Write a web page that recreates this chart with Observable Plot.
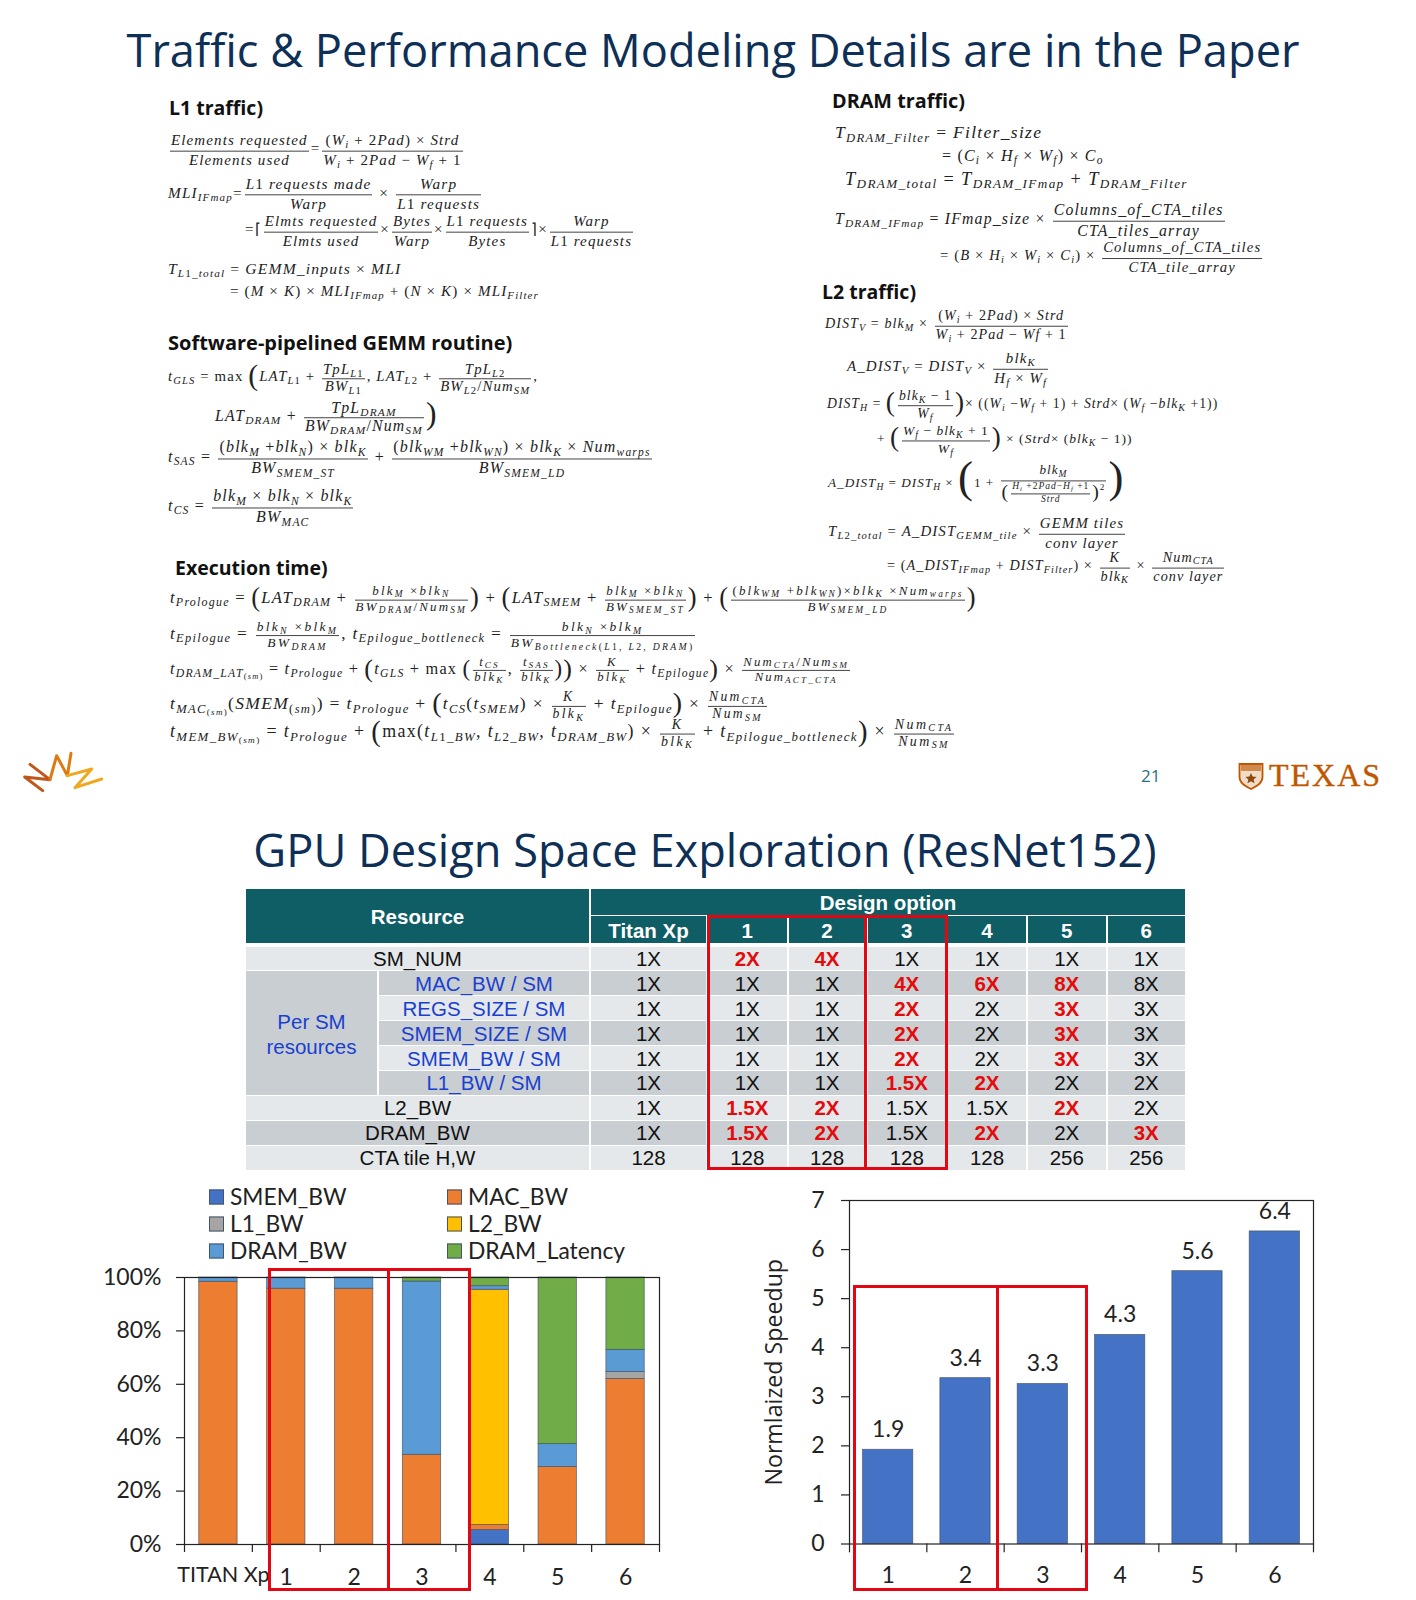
<!DOCTYPE html>
<html><head><meta charset="utf-8">
<script src="https://cdn.jsdelivr.net/npm/d3@7"></script>
<script src="https://cdn.jsdelivr.net/npm/@observablehq/plot@0.6"></script>
<style>
html,body{margin:0;padding:0;background:#fff}
#root{position:relative;width:1416px;height:1600px;overflow:hidden;background:#fff}
.abs{position:absolute;white-space:nowrap}
.title{font-family:"Open Sans",sans-serif;color:#0e2f56;transform:translate(-50%,-50%);line-height:1}
.hd{font-family:"Open Sans",sans-serif;font-weight:700;color:#111;font-size:19.5px;transform:translateY(-50%);line-height:1}
.eq{font-family:"Liberation Serif",serif;font-style:italic;color:#222;font-size:15px;letter-spacing:.075em;transform:translateY(-50%);line-height:1.12}
.eq sub{font-size:.72em;vertical-align:-.28em;line-height:0}
.eq .u{font-style:normal}
.fr{display:inline-flex;flex-direction:column;vertical-align:middle;text-align:center;margin:0 2px}
.fr>span{padding:0 1px;display:block}
.fr>span:first-child{padding-bottom:.14em}
.fr>span+span{border-top:1px solid #444}
.eq.snug,.eq.snug .fr{line-height:.96}
.eq.tight{line-height:1}
.eq.tight .fr{font-size:.78em;letter-spacing:.17em;line-height:1}
.bp{font-style:normal;font-weight:200;line-height:0;vertical-align:-.12em}
#tbl{position:absolute;left:246px;top:889px;display:grid;font-family:"Liberation Sans",Arial,sans-serif;font-size:20.5px;color:#111;
 grid-template-columns:133px 212px 117px 80.5px 79px 80.5px 80px 79.5px 79.5px;
 grid-template-rows:27px 28px 2.5px repeat(9,24.9px)}
#tbl>div{display:flex;align-items:center;justify-content:center;box-sizing:border-box;border-right:2px solid #fff;border-bottom:1.5px solid #fff;white-space:nowrap;overflow:visible;line-height:1;padding-top:1.5px}
#tbl .h{background:#0f5e66;color:#fff;font-weight:700;padding-top:3px}
#tbl .lt{background:#e4e8ea}
#tbl .dk{background:#c9ced2}
#tbl .bl{color:#1a3fd0}
#tbl .rd{color:#e30b0b;font-weight:700}
.red{position:absolute;box-sizing:border-box;border:3.5px solid #e30613;pointer-events:none}
.lg{position:absolute;font-family:Lato,sans-serif;font-size:22.8px;color:#222;line-height:1;transform:translateY(-50%);white-space:nowrap}
.sw{position:absolute;width:15px;height:15px;box-sizing:border-box;border:1px solid #44546a;transform:translateY(-50%)}
</style></head>
<body><div id="root"></div>
<script>
// ---------- data: stacked bottleneck breakdown (percent of time) ----------
const stackOptions = ["TITAN Xp","1","2","3","4","5","6"];
const seriesNames  = ["SMEM_BW","MAC_BW","L1_BW","L2_BW","DRAM_BW","DRAM_Latency"];
const seriesColors = ["#4472c4","#ed7d31","#a5a5a5","#ffc000","#5b9bd5","#70ad47"];
const smemBw      = [0,   0,  0,  0,    5.4, 0,    0];
const macBw       = [98.4,95.8,95.8,33.6,1.9, 29,  62];
const l1Bw        = [0,   0,  0,  0,    0,   0,    2.6];
const l2Bw        = [0,   0,  0,  0,    88.1,0,    0];
const dramBw      = [1.6, 4.2,4.2,64.9, 1.35,8.6,  8.3];
const dramLatency = [0,   0,  0,  1.5,  3.25,62.4, 27.1];
const stackTicks  = [0,20,40,60,80,100];

// ---------- data: normalized speedup ----------
const speedOptions = ["1","2","3","4","5","6"];
const speedup      = [1.92,3.38,3.26,4.26,5.56,6.37];
const speedTicks   = [0,1,2,3,4,5,6,7];

// ---------- data: table ("!" marks a red entry) ----------
const tableColumns = ["Titan Xp","1","2","3","4","5","6"];
const wideRows = {0:"SM_NUM",6:"L2_BW",7:"DRAM_BW",8:"CTA tile H,W"};
const perSmRows = {1:"MAC_BW / SM",2:"REGS_SIZE / SM",3:"SMEM_SIZE / SM",4:"SMEM_BW / SM",5:"L1_BW / SM"};
const tableValues = [
 ["1X","!2X","!4X","1X","1X","1X","1X"],
 ["1X","1X","1X","!4X","!6X","!8X","8X"],
 ["1X","1X","1X","!2X","2X","!3X","3X"],
 ["1X","1X","1X","!2X","2X","!3X","3X"],
 ["1X","1X","1X","!2X","2X","!3X","3X"],
 ["1X","1X","1X","!1.5X","!2X","2X","2X"],
 ["1X","!1.5X","!2X","1.5X","1.5X","!2X","2X"],
 ["1X","!1.5X","!2X","1.5X","!2X","2X","!3X"],
 ["128","128","128","128","128","256","256"]
];

// ---------- page helpers ----------
const root = document.getElementById("root");
function el(cls, style, html){const d=document.createElement("div");d.className=cls;d.style.cssText=style;if(html!==undefined)d.innerHTML=html;root.appendChild(d);return d;}
const F=(a,b)=>`<span class="fr"><span>${a}</span><span>${b}</span></span>`;
const P=(c,em)=>`<span class="bp" style="font-size:${em}em">${c}</span>`;
const U=t=>`<span class="u">${t}</span>`;
function mathHtml(src){
  let s=src,prev;
  do{prev=s;s=s.replace(/_\{([^{}]*)\}/g,"<sub>$1</sub>");}while(s!==prev);
  return s.replace(/(<[^>]*>)|([0-9()+=×−⌈⌉,\/])/g,(m,tag,ch)=>tag?tag:`<span class="u">${ch}</span>`);
}
function eq(x,y,src,fs,extra){el("abs eq"+(extra?" "+extra:""),`left:${x}px;top:${y}px;`+(fs?`font-size:${fs}px;`:""),mathHtml(src));}
function hd(x,y,t,fs){el("abs hd",`left:${x}px;top:${y}px;`+(fs?`font-size:${fs}px`:""),t);}

// ---------- titles ----------
el("abs title","left:713px;top:50px;font-size:45.2px","Traffic &amp; Performance Modeling Details are in the Paper");
el("abs title","left:705px;top:850px;font-size:45.2px","GPU Design Space Exploration (ResNet152)");

// ---------- equations: L1 ----------
hd(169,108,"L1 traffic)");
eq(168,150,F("Elements requested","Elements used")+"="+F("(W_{i} + 2Pad) × Strd","W_{i} + 2Pad − W_{f} + 1"),15);
eq(168,194,"MLI_{IFmap}="+F("L1 requests made","Warp")+" × "+F("Warp","L1 requests"),15.3);
eq(245,231,"=⌈"+F("Elmts requested","Elmts used")+"×"+F("Bytes","Warp")+"×"+F("L1 requests","Bytes")+"⌉×"+F("Warp","L1 requests"),15);
eq(168,269,"T_{L1_total} = GEMM_inputs × MLI",15.6);
eq(230,291,"= (M × K) × MLI_{IFmap} + (N × K) × MLI_{Filter}",15.1);
// GEMM
hd(168,343,"Software-pipelined GEMM routine)",20);
eq(168,378,"t_{GLS} = "+U("max")+" "+P("(",2)+"LAT_{L1} + "+F("TpL_{L1}","BW_{L1}")+", LAT_{L2} + "+F("TpL_{L2}","BW_{L2}/Num_{SM}")+",",14.8,"snug");
eq(215,417,"LAT_{DRAM} + "+F("TpL_{DRAM}","BW_{DRAM}/Num_{SM}")+P(")",2),15.8,"snug");
eq(168,458,"t_{SAS} = "+F("(blk_{M} +blk_{N}) × blk_{K}","BW_{SMEM_ST}")+" + "+F("(blk_{WM} +blk_{WN}) × blk_{K} × Num_{warps}","BW_{SMEM_LD}"),16);
eq(168,507,"t_{CS} = "+F("blk_{M} × blk_{N} × blk_{K}","BW_{MAC}"),16);
// DRAM
hd(832,101,"DRAM traffic)",19.8);
eq(835,133,"T_{DRAM_Filter} = Filter_size",17.5);
eq(942,156,"= (C_{i} × H_{f} × W_{f}) × C_{o}",16);
eq(845,179,"T_{DRAM_total} = T_{DRAM_IFmap} + T_{DRAM_Filter}",18.3);
eq(835,220,"T_{DRAM_IFmap} = IFmap_size × "+F("Columns_of_CTA_tiles","CTA_tiles_array"),15.8);
eq(940,257,"= (B × H_{i} × W_{i} × C_{i}) × "+F("Columns_of_CTA_tiles","CTA_tile_array"),14.7);
// L2
hd(822,292,"L2 traffic)");
eq(825,325,"DIST_{V} = blk_{M} × "+F("(W_{i} + 2Pad) × Strd","W_{i} + 2Pad − Wf + 1"),14.1);
eq(847,368,"A_DIST_{V} = DIST_{V} × "+F("blk_{K}","H_{f} × W_{f}"),14.9);
eq(827,405,"DIST_{H} = "+P("(",2)+F("blk_{K} − 1","W_{f}")+P(")",2)+"× ((W_{i} −W_{f} + 1) + Strd× (W_{f} −blk_{K} +1))",13.7);
eq(877,440,"+ "+P("(",2)+F("W_{f} − blk_{K} + 1","W_{f}")+P(")",2)+" × (Strd× (blk_{K} − 1))",13.5);
eq(828,484,"A_DIST_{H} = DIST_{H} × "+P("(",3.4)+"1 + "+F("blk_{M}",P("(",1.5)+`<span style="font-size:.72em">`+F("H_{i} +2Pad−H_{f} +1","Strd")+"</span>"+P(")",1.5)+"<sup style='font-size:.7em;line-height:0'>2</sup>")+P(")",3.4),13.2);
eq(828,533,"T_{L2_total} = A_DIST_{GEMM_tile} × "+F("GEMM tiles","conv layer"),14.9);
eq(887,567,"= (A_DIST_{IFmap} + DIST_{Filter}) × "+F("K","blk_{K}")+" × "+F("Num_{CTA}","conv layer"),14.2);
// Execution
hd(175,568,"Execution time)");
eq(170,599,"t_{Prologue} = "+P("(",1.6)+"LAT_{DRAM} + "+F("blk_{M} ×blk_{N}","BW_{DRAM}/Num_{SM}")+P(")",1.6)+" + "+P("(",1.6)+"LAT_{SMEM} + "+F("blk_{M} ×blk_{N}","BW_{SMEM_ST}")+P(")",1.6)+" + "+P("(",1.6)+F("(blk_{WM} +blk_{WN})×blk_{K} ×Num_{warps}","BW_{SMEM_LD}")+P(")",1.6),16.6,"tight");
eq(170,635,"t_{Epilogue} = "+F("blk_{N} ×blk_{M}","BW_{DRAM}")+",  t_{Epilogue_bottleneck} = "+F("blk_{N} ×blk_{M}","BW_{Bottleneck(L1, L2, DRAM)}"),17.3,"tight");
eq(170,670,"t_{DRAM_LAT_{(sm)}} = t_{Prologue} + "+P("(",1.6)+"t_{GLS} + "+U("max")+" "+P("(",1.4)+F("t_{CS}","blk_{K}")+", "+F("t_{SAS}","blk_{K}")+P(")",1.4)+P(")",1.6)+" × "+F("K","blk_{K}")+" + t_{Epilogue}"+P(")",1.6)+" × "+F("Num_{CTA}/Num_{SM}","Num_{ACT_CTA}"),16.3,"tight");
eq(170,705,"t_{MAC_{(sm)}}(SMEM_{(sm)}) = t_{Prologue} + "+P("(",1.6)+"t_{CS}(t_{SMEM}) × "+F("K","blk_{K}")+" + t_{Epilogue}"+P(")",1.6)+" × "+F("Num_{CTA}","Num_{SM}"),17.5,"tight");
eq(170,733,"t_{MEM_BW_{(sm)}} = t_{Prologue} + "+P("(",1.6)+U("max")+"(t_{L1_BW}, t_{L2_BW}, t_{DRAM_BW}) × "+F("K","blk_{K}")+" + t_{Epilogue_bottleneck}"+P(")",1.6)+" × "+F("Num_{CTA}","Num_{SM}"),17.9,"tight");

// ---------- footer ----------
el("abs","left:10px;top:745px;width:110px;height:60px",`<svg width="110" height="60" viewBox="0 0 330 180"><g fill="none" stroke-linecap="round" stroke-linejoin="round" stroke-width="9"><polyline points="60,58 120,104 44,96 98,137" stroke="#c0561a"/><polyline points="120,104 140,32 172,92 183,25" stroke="#dd7a12"/><polyline points="172,92 245,72 195,128 275,102" stroke="#f0a820"/></g></svg>`);
el("abs","left:1141px;top:766px;font:17px 'Open Sans',sans-serif;color:#2a6f80;line-height:20px","21");
el("abs","left:1238px;top:762px;width:26px;height:28px",`<svg width="26" height="28" viewBox="0 0 26 28"><path d="M1.5 2 H24.5 V15 C24.5 22 17 25 13 27 C9 25 1.5 22 1.5 15 Z" fill="#f3dcc6" stroke="#bf5700" stroke-width="1.8"/><rect x="3" y="3" width="20" height="6" fill="#d08a4e"/><path d="M13 11 l1.6 3.6 4 .3 -3 2.5 1 3.8 -3.6 -2 -3.6 2 1 -3.8 -3 -2.5 4 -.3z" fill="#8a4a12"/></svg>`);
el("abs","left:1269px;top:755px;font:32px 'Liberation Serif',serif;color:#bf5700;line-height:40px;letter-spacing:2px;-webkit-text-stroke:.4px #bf5700","TEXAS");

// ---------- table ----------
const tbl=document.createElement("div");tbl.id="tbl";root.appendChild(tbl);
function cell(c1,c2,r1,r2,text,cls){const d=document.createElement("div");d.className=cls;d.style.gridColumn=`${c1}/${c2}`;d.style.gridRow=`${r1}/${r2}`;d.textContent=text;tbl.appendChild(d);}
cell(1,3,1,3,"Resource","h");
cell(3,10,1,2,"Design option","h");
tableColumns.forEach((c,i)=>cell(3+i,4+i,2,3,c,"h"));
const rowBase=4;
tableValues.forEach((vals,r)=>{
  const shade=r%2===0?"lt":"dk", R=rowBase+r;
  if(wideRows[r]) cell(1,3,R,R+1,wideRows[r],shade);
  else cell(2,3,R,R+1,perSmRows[r],shade+" bl");
  vals.forEach((v,i)=>{const red=v[0]==="!";cell(3+i,4+i,R,R+1,red?v.slice(1):v,shade+(red?" rd":""));});
});
const perSm=document.createElement("div");perSm.className="dk bl";perSm.style.gridColumn="1/2";perSm.style.gridRow=`${rowBase+1}/${rowBase+6}`;perSm.style.textAlign="center";perSm.innerHTML="<span style='line-height:25px'>Per SM<br>resources</span>";tbl.appendChild(perSm);
el("red","left:707px;top:915px;width:160px;height:255px");
el("red","left:864px;top:915px;width:84px;height:255px");

// ---------- stacked chart ----------
const stackRows = [];
[smemBw,macBw,l1Bw,l2Bw,dramBw,dramLatency].forEach((vals,k)=>vals.forEach((v,i)=>{if(v>0)stackRows.push({option:stackOptions[i],series:seriesNames[k],share:v});}));
const W1=475,H1=267,mL1=100,mT1=12,mB1=60,mR1=20;
const step1=W1/stackOptions.length;
const chart1=Plot.plot({
  width:W1+mL1+mR1,height:H1+mT1+mB1,marginLeft:mL1,marginRight:mR1,marginTop:mT1,marginBottom:mB1,
  style:{fontFamily:"Lato, sans-serif",fontSize:"23px",color:"#222",background:"transparent"},
  x:{domain:stackOptions,paddingInner:.435,paddingOuter:.2175,round:false,axis:null},
  y:{domain:[0,100],axis:null},
  color:{domain:seriesNames,range:seriesColors},
  marks:[
    Plot.barY(stackRows,{x:"option",y:"share",fill:"series",order:seriesNames,stroke:"#3e4c5c",strokeWidth:.8,strokeOpacity:.75}),
    Plot.frame({stroke:"#222",strokeWidth:1.2}),
    Plot.axisY({ticks:stackTicks,tickFormat:d=>d+"%",tickSize:8,tickPadding:15,label:null,strokeWidth:1.2}),
    Plot.ruleX(stackOptions,{x:d=>d,y1:0,y2:-3,dx:-step1/2,stroke:"#222",strokeWidth:1.2}),
    Plot.ruleX(stackOptions.slice(-1),{x:d=>d,y1:0,y2:-3,dx:step1/2,stroke:"#222",strokeWidth:1.2}),
    Plot.axisX(stackOptions.slice(1),{tickSize:0,tickPadding:24,label:null}),
    Plot.axisX(stackOptions.slice(0,1),{tickSize:0,tickPadding:22,dx:5,fontSize:21.5,label:null})
  ]
});
chart1.style.cssText+=`;position:absolute;left:${184-mL1}px;top:${1277-mT1}px`;
root.appendChild(chart1);
// legend
const lgCols=[[209,230],[447,468]], lgRows=[1197,1224,1251];
seriesNames.forEach((n,i)=>{
  const c=lgCols[i%2], y=lgRows[Math.floor(i/2)];
  el("sw",`left:${c[0]}px;top:${y}px;background:${seriesColors[i]}`);
  el("lg",`left:${c[1]}px;top:${y-1}px`,n);
});
el("red","left:268px;top:1268px;width:122px;height:323px");
el("red","left:387px;top:1268px;width:84px;height:323px");

// ---------- speedup chart ----------
const speedRows=speedOptions.map((o,i)=>({option:o,value:speedup[i]}));
const W2=464,H2=343.5,mL2=90,mT2=12,mB2=60,mR2=20;
const step2=W2/speedOptions.length;
const chart2=Plot.plot({
  width:W2+mL2+mR2,height:H2+mT2+mB2,marginLeft:mL2,marginRight:mR2,marginTop:mT2,marginBottom:mB2,
  style:{fontFamily:"Lato, sans-serif",fontSize:"23px",color:"#222",background:"transparent"},
  x:{domain:speedOptions,paddingInner:.35,paddingOuter:.175,round:false,axis:null},
  y:{domain:[0,7],axis:null},
  marks:[
    Plot.barY(speedRows,{x:"option",y:"value",fill:"#4472c4",stroke:"#3e4c5c",strokeWidth:.8,strokeOpacity:.75}),
    Plot.frame({stroke:"#222",strokeWidth:1.2}),
    Plot.axisY({ticks:speedTicks,tickFormat:d=>d,tickSize:8,tickPadding:17,label:null,strokeWidth:1.2}),
    Plot.ruleX(speedOptions,{x:d=>d,y1:0,y2:-.18,dx:-step2/2,stroke:"#222",strokeWidth:1.2}),
    Plot.ruleX(speedOptions.slice(-1),{x:d=>d,y1:0,y2:-.18,dx:step2/2,stroke:"#222",strokeWidth:1.2}),
    Plot.axisX(speedOptions,{tickSize:0,tickPadding:23,label:null}),
    Plot.text(speedRows,{x:"option",y:"value",text:d=>d.value.toFixed(1),dy:-20,fill:"#222"}),
    Plot.text(["Normlaized Speedup"],{frameAnchor:"left",textAnchor:"middle",rotate:-90,dx:-75,fontFamily:"Open Sans, sans-serif",fontSize:23.2,fill:"#222"})
  ]
});
chart2.style.cssText+=`;position:absolute;left:${849-mL2}px;top:${1200-mT2}px`;
root.appendChild(chart2);
el("red","left:853px;top:1285px;width:146px;height:306px");
el("red","left:996px;top:1285px;width:92px;height:306px");
</script>
</body></html>
